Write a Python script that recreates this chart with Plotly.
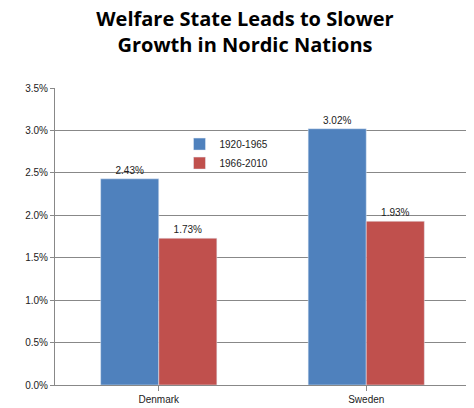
import plotly.graph_objects as go

countries = ["Denmark", "Sweden"]
period_1 = [2.43, 3.02]
period_2 = [1.73, 1.93]
series_names = ["1920-1965", "1966-2010"]

fig = go.Figure()
for name, vals, col in [(series_names[0], period_1, "#4F81BD"),
                        (series_names[1], period_2, "#C0504D")]:
    fig.add_trace(go.Bar(
        x=countries, y=vals, name=name, marker_color=col,
        text=[f"{v:.2f}%" for v in vals], textposition="outside",
        textfont=dict(size=10, color="#222"), cliponaxis=False,
    ))

fig.update_layout(
    width=474, height=408,
    margin=dict(l=47, r=12, t=80, b=31),
    paper_bgcolor="white", plot_bgcolor="white",
    font=dict(family="Liberation Sans Narrow, Liberation Sans, Arial", color="#222"),
    title=dict(text="<b>Welfare State Leads to Slower<br>Growth in Nordic Nations</b>",
               x=0.5, xanchor="center", y=0.955, yanchor="top",
               font=dict(family="Open Sans", size=20, color="black")),
    barmode="group", bargap=0.44, bargroupgap=0,
    legend=dict(x=0.3, y=0.86, xanchor="left", yanchor="top",
                font=dict(size=10), bgcolor="rgba(0,0,0,0)"),
    showlegend=True,
)
fig.update_yaxes(range=[0, 3.5], dtick=0.5, tickformat=".1f", ticksuffix="%",
                 showgrid=True, gridcolor="#888", gridwidth=1,
                 showline=True, linecolor="#888", ticks="outside", ticklen=4,
                 tickcolor="#888", tickfont=dict(size=10))
fig.update_xaxes(showline=True, linecolor="#888", tickfont=dict(size=10),
                 ticks="outside", tickcolor="#888")

fig.write_html("out.html")
